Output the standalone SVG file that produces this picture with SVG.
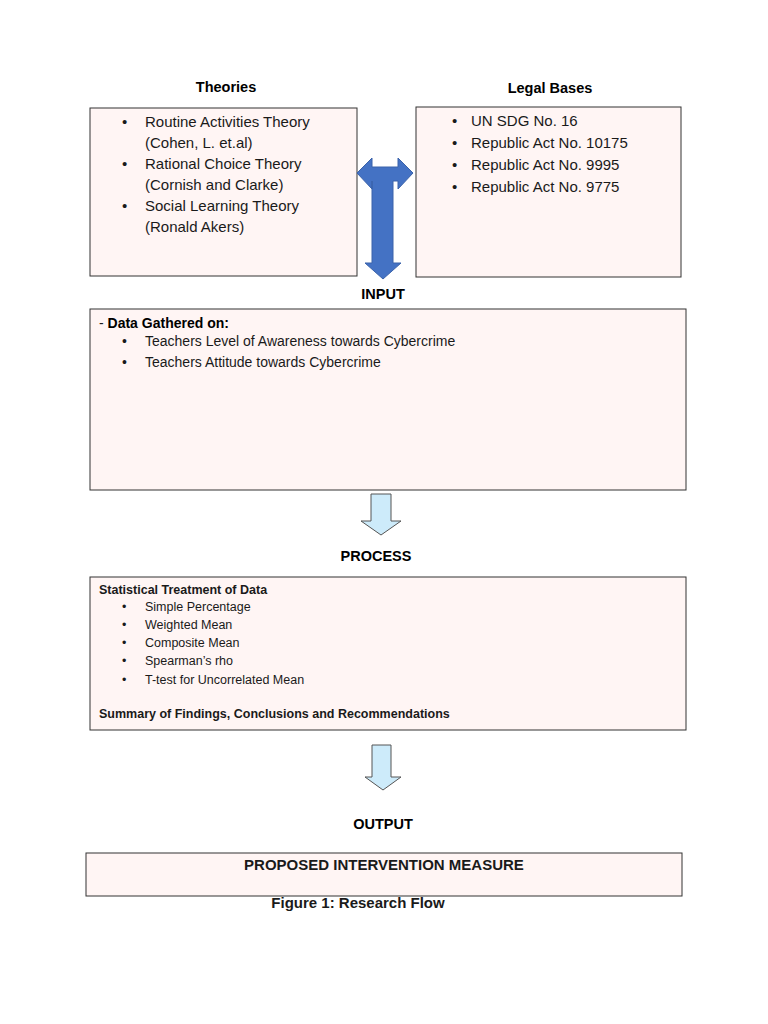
<svg xmlns="http://www.w3.org/2000/svg" width="768" height="1024" viewBox="0 0 768 1024">
<style>
.box{fill:#FFF5F4;stroke:#333;stroke-width:1}
text{font-family:"Liberation Sans",Arial,sans-serif;fill:#1a1a1a}
.h{font-weight:bold;font-size:14.5px;fill:#000}
.t15{font-size:15px}
.t14{font-size:14px}
.t13{font-size:12.5px}
.b{font-weight:bold}
.blue{fill:#4472C4;stroke:#3A62AA;stroke-width:1}
.lb{fill:#CDEBFA;stroke:#555;stroke-width:1}
</style>
<rect width="768" height="1024" fill="#fff"/>
<g id="theories">
<text class="h" x="226" y="92" text-anchor="middle">Theories</text>
<rect class="box" x="90" y="108" width="267" height="168"/>
<g class="t15">
<text x="122" y="127">•</text><text x="145" y="127">Routine Activities Theory</text>
<text x="145" y="148">(Cohen, L. et.al)</text>
<text x="122" y="169">•</text><text x="145" y="169">Rational Choice Theory</text>
<text x="145" y="190">(Cornish and Clarke)</text>
<text x="122" y="211">•</text><text x="145" y="211">Social Learning Theory</text>
<text x="145" y="232">(Ronald Akers)</text>
</g>
</g>
<g id="legal">
<text class="h" x="550" y="93" text-anchor="middle">Legal Bases</text>
<rect class="box" x="416" y="107" width="265" height="170"/>
<g class="t15">
<text x="452" y="126">•</text><text x="471" y="126">UN SDG No. 16</text>
<text x="452" y="148">•</text><text x="471" y="148">Republic Act No. 10175</text>
<text x="452" y="170">•</text><text x="471" y="170">Republic Act No. 9995</text>
<text x="452" y="192">•</text><text x="471" y="192">Republic Act No. 9775</text>
</g>
</g>
<g id="input">
<text class="h" x="383" y="299" text-anchor="middle">INPUT</text>
<rect class="box" x="90" y="309" width="596" height="181"/>
<text class="t14" x="99" y="328">- <tspan class="b" fill="#000">Data Gathered on:</tspan></text>
<g class="t14">
<text x="122" y="346">•</text><text x="145" y="346">Teachers Level of Awareness towards Cybercrime</text>
<text x="122" y="367">•</text><text x="145" y="367">Teachers Attitude towards Cybercrime</text>
</g>
</g>
<g id="process">
<text class="h" x="376" y="561" text-anchor="middle">PROCESS</text>
<rect class="box" x="90" y="577" width="596" height="153"/>
<g class="t13">
<text class="b" x="99" y="594">Statistical Treatment of Data</text>
<text x="122" y="611">•</text><text x="145" y="611">Simple Percentage</text>
<text x="122" y="629">•</text><text x="145" y="629">Weighted Mean</text>
<text x="122" y="647">•</text><text x="145" y="647">Composite Mean</text>
<text x="122" y="665">•</text><text x="145" y="665">Spearman’s rho</text>
<text x="122" y="684">•</text><text x="145" y="684">T-test for Uncorrelated Mean</text>
<text class="b" x="99" y="718">Summary of Findings, Conclusions and Recommendations</text>
</g>
</g>
<g id="output">
<text class="h" x="383" y="829" text-anchor="middle">OUTPUT</text>
<rect class="box" x="86" y="853" width="596" height="43"/>
<text class="b" x="384" y="870" font-size="15" fill="#000" text-anchor="middle">PROPOSED INTERVENTION MEASURE</text>
</g>
<g id="caption">
<text class="b" x="358" y="908" font-size="15" fill="#000" text-anchor="middle">Figure 1: Research Flow</text>
</g>
<g id="connectors">
<path class="blue" d="M357,173 L372,158 L372,167 L398,167 L398,158 L413,173 L398,189 L398,181 L393,181 L393,263 L401,263 L383,279 L365,263 L372,263 L372,181 L372,181 L372,189 Z"/>
<path class="lb" d="M371,494 L391,494 L391,521 L401,521 L381,535 L361,521 L371,521 Z"/>
<path class="lb" d="M372,745 L391,745 L391,777 L401,777 L383,790 L365,777 L372,777 Z"/>
</g>
</svg>
